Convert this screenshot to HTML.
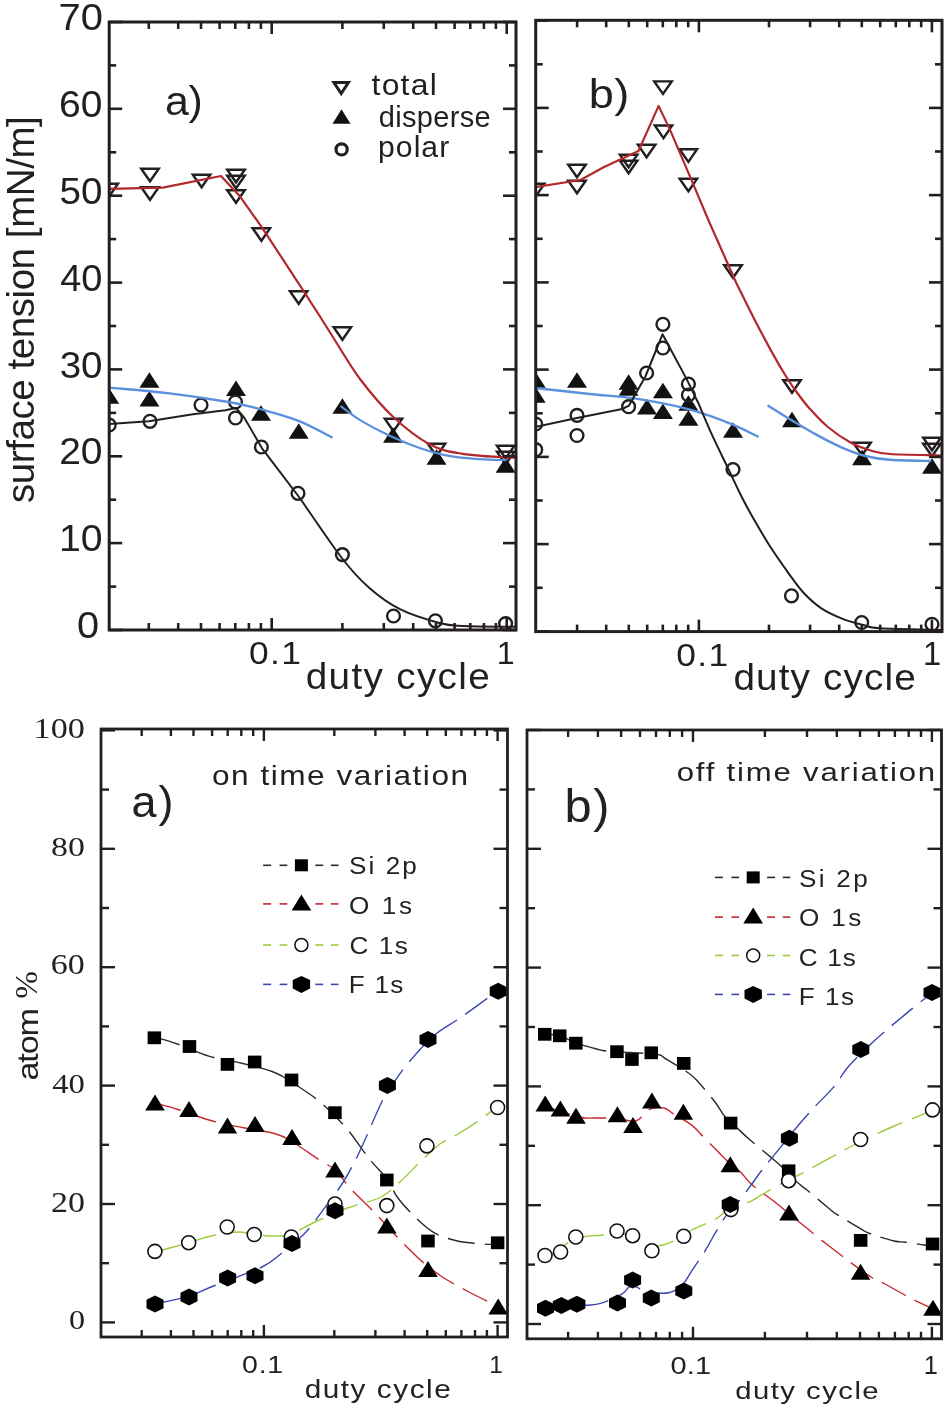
<!DOCTYPE html><html><head><meta charset="utf-8"><title>Surface tension and XPS composition vs duty cycle</title><style>html,body{margin:0;padding:0;background:#fff;}svg{display:block;}</style></head><body>
<svg width="947" height="1409" viewBox="0 0 947 1409">
<rect width="947" height="1409" fill="#fff"/>
<defs>
<clipPath id="cA"><rect x="109.2" y="22" width="406.8" height="607.8"/></clipPath>
<clipPath id="cB"><rect x="535.7" y="20.3" width="406.3" height="611.3"/></clipPath>
<clipPath id="cC"><rect x="101" y="729" width="406.5" height="608"/></clipPath>
<clipPath id="cD"><rect x="527" y="730" width="414.5" height="609"/></clipPath>
</defs>
<g clip-path="url(#cA)">
<path d="M100.5,183.7 L118.0,183.7 L109.2,196.3 Z" fill="none" stroke="#231f20" stroke-width="2.4" stroke-linejoin="miter"/>
<path d="M141.2,168.7 L158.8,168.7 L150.0,181.3 Z" fill="none" stroke="#231f20" stroke-width="2.4" stroke-linejoin="miter"/>
<path d="M141.2,187.2 L158.8,187.2 L150.0,199.8 Z" fill="none" stroke="#231f20" stroke-width="2.4" stroke-linejoin="miter"/>
<path d="M192.8,174.7 L210.3,174.7 L201.6,187.3 Z" fill="none" stroke="#231f20" stroke-width="2.4" stroke-linejoin="miter"/>
<path d="M227.2,169.7 L244.8,169.7 L236.0,182.3 Z" fill="none" stroke="#231f20" stroke-width="2.4" stroke-linejoin="miter"/>
<path d="M227.2,175.7 L244.8,175.7 L236.0,188.3 Z" fill="none" stroke="#231f20" stroke-width="2.4" stroke-linejoin="miter"/>
<path d="M227.2,190.2 L244.8,190.2 L236.0,202.8 Z" fill="none" stroke="#231f20" stroke-width="2.4" stroke-linejoin="miter"/>
<path d="M252.6,228.2 L270.1,228.2 L261.4,240.8 Z" fill="none" stroke="#231f20" stroke-width="2.4" stroke-linejoin="miter"/>
<path d="M289.9,291.2 L307.4,291.2 L298.7,303.8 Z" fill="none" stroke="#231f20" stroke-width="2.4" stroke-linejoin="miter"/>
<path d="M333.6,327.2 L351.1,327.2 L342.4,339.8 Z" fill="none" stroke="#231f20" stroke-width="2.4" stroke-linejoin="miter"/>
<path d="M384.8,418.7 L402.2,418.7 L393.5,431.3 Z" fill="none" stroke="#231f20" stroke-width="2.4" stroke-linejoin="miter"/>
<path d="M427.8,443.7 L445.2,443.7 L436.5,456.3 Z" fill="none" stroke="#231f20" stroke-width="2.4" stroke-linejoin="miter"/>
<path d="M496.9,445.7 L514.4,445.7 L505.6,458.3 Z" fill="none" stroke="#231f20" stroke-width="2.4" stroke-linejoin="miter"/>
<path d="M496.9,451.7 L514.4,451.7 L505.6,464.3 Z" fill="none" stroke="#231f20" stroke-width="2.4" stroke-linejoin="miter"/>
<path d="M99.2,403.8 L119.2,403.8 L109.2,388.2 Z" fill="#111"/>
<path d="M139.4,387.8 L159.4,387.8 L149.4,372.2 Z" fill="#111"/>
<path d="M139.4,406.4 L159.4,406.4 L149.4,390.9 Z" fill="#111"/>
<path d="M226.0,396.1 L246.0,396.1 L236.0,380.6 Z" fill="#111"/>
<path d="M251.0,420.8 L271.0,420.8 L261.0,405.2 Z" fill="#111"/>
<path d="M288.7,438.8 L308.7,438.8 L298.7,423.2 Z" fill="#111"/>
<path d="M332.4,413.8 L352.4,413.8 L342.4,398.2 Z" fill="#111"/>
<path d="M383.0,442.8 L403.0,442.8 L393.0,427.2 Z" fill="#111"/>
<path d="M426.5,464.8 L446.5,464.8 L436.5,449.2 Z" fill="#111"/>
<path d="M495.6,472.8 L515.6,472.8 L505.6,457.2 Z" fill="#111"/>
<circle cx="109.2" cy="425.0" r="6.4" fill="none" stroke="#231f20" stroke-width="2.4"/>
<circle cx="150.0" cy="421.3" r="6.4" fill="none" stroke="#231f20" stroke-width="2.4"/>
<circle cx="201.0" cy="405.0" r="6.4" fill="none" stroke="#231f20" stroke-width="2.4"/>
<circle cx="235.5" cy="402.0" r="6.4" fill="none" stroke="#231f20" stroke-width="2.4"/>
<circle cx="235.5" cy="418.0" r="6.4" fill="none" stroke="#231f20" stroke-width="2.4"/>
<circle cx="261.4" cy="447.0" r="6.4" fill="none" stroke="#231f20" stroke-width="2.4"/>
<circle cx="298.0" cy="493.3" r="6.4" fill="none" stroke="#231f20" stroke-width="2.4"/>
<circle cx="342.4" cy="554.6" r="6.4" fill="none" stroke="#231f20" stroke-width="2.4"/>
<circle cx="393.5" cy="616.0" r="6.4" fill="none" stroke="#231f20" stroke-width="2.4"/>
<circle cx="435.4" cy="620.8" r="6.4" fill="none" stroke="#231f20" stroke-width="2.4"/>
<circle cx="505.6" cy="623.6" r="6.4" fill="none" stroke="#231f20" stroke-width="2.4"/>
<path d="M109.0,188.8 L162.7,187.6 L221.0,176.0 L239.4,195.7 L262.6,228.3 L302.0,288.7 L320.0,316.5 L334.8,340.0 C339.1,346.6 350.7,366.7 360.4,379.5 C370.1,392.3 381.4,405.9 393.0,416.7 C404.6,427.5 418.4,438.3 430.0,444.5 C441.6,450.7 450.2,451.7 462.6,453.8 C475.0,455.9 495.5,456.7 504.4,457.3 C513.3,457.9 514.1,457.6 516.0,457.6" fill="none" stroke="#b3282d" stroke-width="2.2" stroke-linejoin="round"/>
<path d="M109.3,387.6 C119.4,388.6 149.6,390.9 169.7,393.4 C189.8,395.8 214.5,399.6 230.0,402.3 C245.5,405.0 251.0,406.5 262.6,409.7 C274.2,412.9 288.2,416.6 299.8,421.3 C311.4,426.0 327.1,434.9 332.5,437.6" fill="none" stroke="#5a90dc" stroke-width="2.4" stroke-linejoin="round"/>
<path d="M340.6,406.2 C343.9,408.5 351.8,415.1 360.1,420.1 C368.4,425.1 380.2,431.4 390.2,436.1 C400.2,440.8 410.3,444.9 420.3,448.2 C430.3,451.5 440.4,454.4 450.4,456.2 C460.4,458.0 471.1,458.5 480.5,459.2 C489.9,459.9 502.2,460.0 506.6,460.2" fill="none" stroke="#5a90dc" stroke-width="2.2" stroke-linejoin="round"/>
<path d="M109.0,424.0 L148.8,421.3 L193.0,414.3 L225.3,410.3 L236.0,408.0 L244.0,417.3 L262.6,449.2 L299.8,498.0 C306.8,508.0 330.2,543.0 341.8,558.0 C353.4,573.0 360.0,579.8 369.7,588.3 C379.4,596.8 388.3,603.4 399.9,609.2 C411.5,615.0 428.9,620.2 439.4,623.0 C449.8,625.8 449.8,625.4 462.6,626.0 C475.4,626.6 507.1,626.7 516.0,626.8" fill="none" stroke="#231f20" stroke-width="2.0" stroke-linejoin="round"/>
</g>
<rect x="109.2" y="22" width="406.8" height="608.0" fill="none" stroke="#231f20" stroke-width="3"/>
<line x1="148.8" y1="22" x2="148.8" y2="29" stroke="#231f20" stroke-width="2.6"/>
<line x1="148.8" y1="630.0" x2="148.8" y2="623.0" stroke="#231f20" stroke-width="2.6"/>
<line x1="178.2" y1="22" x2="178.2" y2="29" stroke="#231f20" stroke-width="2.6"/>
<line x1="178.2" y1="630.0" x2="178.2" y2="623.0" stroke="#231f20" stroke-width="2.6"/>
<line x1="201.0" y1="22" x2="201.0" y2="29" stroke="#231f20" stroke-width="2.6"/>
<line x1="201.0" y1="630.0" x2="201.0" y2="623.0" stroke="#231f20" stroke-width="2.6"/>
<line x1="219.6" y1="22" x2="219.6" y2="29" stroke="#231f20" stroke-width="2.6"/>
<line x1="219.6" y1="630.0" x2="219.6" y2="623.0" stroke="#231f20" stroke-width="2.6"/>
<line x1="235.3" y1="22" x2="235.3" y2="29" stroke="#231f20" stroke-width="2.6"/>
<line x1="235.3" y1="630.0" x2="235.3" y2="623.0" stroke="#231f20" stroke-width="2.6"/>
<line x1="248.9" y1="22" x2="248.9" y2="29" stroke="#231f20" stroke-width="2.6"/>
<line x1="248.9" y1="630.0" x2="248.9" y2="623.0" stroke="#231f20" stroke-width="2.6"/>
<line x1="260.9" y1="22" x2="260.9" y2="29" stroke="#231f20" stroke-width="2.6"/>
<line x1="260.9" y1="630.0" x2="260.9" y2="623.0" stroke="#231f20" stroke-width="2.6"/>
<line x1="271.7" y1="22" x2="271.7" y2="34" stroke="#231f20" stroke-width="2.6"/>
<line x1="271.7" y1="630.0" x2="271.7" y2="618.0" stroke="#231f20" stroke-width="2.6"/>
<line x1="342.4" y1="22" x2="342.4" y2="29" stroke="#231f20" stroke-width="2.6"/>
<line x1="342.4" y1="630.0" x2="342.4" y2="623.0" stroke="#231f20" stroke-width="2.6"/>
<line x1="383.8" y1="22" x2="383.8" y2="29" stroke="#231f20" stroke-width="2.6"/>
<line x1="383.8" y1="630.0" x2="383.8" y2="623.0" stroke="#231f20" stroke-width="2.6"/>
<line x1="413.2" y1="22" x2="413.2" y2="29" stroke="#231f20" stroke-width="2.6"/>
<line x1="413.2" y1="630.0" x2="413.2" y2="623.0" stroke="#231f20" stroke-width="2.6"/>
<line x1="436.0" y1="22" x2="436.0" y2="29" stroke="#231f20" stroke-width="2.6"/>
<line x1="436.0" y1="630.0" x2="436.0" y2="623.0" stroke="#231f20" stroke-width="2.6"/>
<line x1="454.6" y1="22" x2="454.6" y2="29" stroke="#231f20" stroke-width="2.6"/>
<line x1="454.6" y1="630.0" x2="454.6" y2="623.0" stroke="#231f20" stroke-width="2.6"/>
<line x1="470.3" y1="22" x2="470.3" y2="29" stroke="#231f20" stroke-width="2.6"/>
<line x1="470.3" y1="630.0" x2="470.3" y2="623.0" stroke="#231f20" stroke-width="2.6"/>
<line x1="483.9" y1="22" x2="483.9" y2="29" stroke="#231f20" stroke-width="2.6"/>
<line x1="483.9" y1="630.0" x2="483.9" y2="623.0" stroke="#231f20" stroke-width="2.6"/>
<line x1="495.9" y1="22" x2="495.9" y2="29" stroke="#231f20" stroke-width="2.6"/>
<line x1="495.9" y1="630.0" x2="495.9" y2="623.0" stroke="#231f20" stroke-width="2.6"/>
<line x1="506.7" y1="22" x2="506.7" y2="34" stroke="#231f20" stroke-width="2.6"/>
<line x1="506.7" y1="630.0" x2="506.7" y2="618.0" stroke="#231f20" stroke-width="2.6"/>
<line x1="109.2" y1="630.0" x2="122.2" y2="630.0" stroke="#231f20" stroke-width="2.6"/>
<line x1="516" y1="630.0" x2="503" y2="630.0" stroke="#231f20" stroke-width="2.6"/>
<line x1="109.2" y1="586.6" x2="116.2" y2="586.6" stroke="#231f20" stroke-width="2.6"/>
<line x1="516" y1="586.6" x2="509" y2="586.6" stroke="#231f20" stroke-width="2.6"/>
<line x1="109.2" y1="543.1" x2="122.2" y2="543.1" stroke="#231f20" stroke-width="2.6"/>
<line x1="516" y1="543.1" x2="503" y2="543.1" stroke="#231f20" stroke-width="2.6"/>
<line x1="109.2" y1="499.7" x2="116.2" y2="499.7" stroke="#231f20" stroke-width="2.6"/>
<line x1="516" y1="499.7" x2="509" y2="499.7" stroke="#231f20" stroke-width="2.6"/>
<line x1="109.2" y1="456.3" x2="122.2" y2="456.3" stroke="#231f20" stroke-width="2.6"/>
<line x1="516" y1="456.3" x2="503" y2="456.3" stroke="#231f20" stroke-width="2.6"/>
<line x1="109.2" y1="412.9" x2="116.2" y2="412.9" stroke="#231f20" stroke-width="2.6"/>
<line x1="516" y1="412.9" x2="509" y2="412.9" stroke="#231f20" stroke-width="2.6"/>
<line x1="109.2" y1="369.4" x2="122.2" y2="369.4" stroke="#231f20" stroke-width="2.6"/>
<line x1="516" y1="369.4" x2="503" y2="369.4" stroke="#231f20" stroke-width="2.6"/>
<line x1="109.2" y1="326.0" x2="116.2" y2="326.0" stroke="#231f20" stroke-width="2.6"/>
<line x1="516" y1="326.0" x2="509" y2="326.0" stroke="#231f20" stroke-width="2.6"/>
<line x1="109.2" y1="282.6" x2="122.2" y2="282.6" stroke="#231f20" stroke-width="2.6"/>
<line x1="516" y1="282.6" x2="503" y2="282.6" stroke="#231f20" stroke-width="2.6"/>
<line x1="109.2" y1="239.1" x2="116.2" y2="239.1" stroke="#231f20" stroke-width="2.6"/>
<line x1="516" y1="239.1" x2="509" y2="239.1" stroke="#231f20" stroke-width="2.6"/>
<line x1="109.2" y1="195.7" x2="122.2" y2="195.7" stroke="#231f20" stroke-width="2.6"/>
<line x1="516" y1="195.7" x2="503" y2="195.7" stroke="#231f20" stroke-width="2.6"/>
<line x1="109.2" y1="152.3" x2="116.2" y2="152.3" stroke="#231f20" stroke-width="2.6"/>
<line x1="516" y1="152.3" x2="509" y2="152.3" stroke="#231f20" stroke-width="2.6"/>
<line x1="109.2" y1="108.8" x2="122.2" y2="108.8" stroke="#231f20" stroke-width="2.6"/>
<line x1="516" y1="108.8" x2="503" y2="108.8" stroke="#231f20" stroke-width="2.6"/>
<line x1="109.2" y1="65.4" x2="116.2" y2="65.4" stroke="#231f20" stroke-width="2.6"/>
<line x1="516" y1="65.4" x2="509" y2="65.4" stroke="#231f20" stroke-width="2.6"/>
<line x1="109.2" y1="22.0" x2="122.2" y2="22.0" stroke="#231f20" stroke-width="2.6"/>
<line x1="516" y1="22.0" x2="503" y2="22.0" stroke="#231f20" stroke-width="2.6"/>
<text transform="translate(58.55,30.12) scale(1.0956,1)" font-family='"Liberation Sans", Arial, sans-serif' font-size="36.44" fill="#231f20" >70</text>
<text transform="translate(59.12,116.98) scale(1.0709,1)" font-family='"Liberation Sans", Arial, sans-serif' font-size="36.44" fill="#231f20" >60</text>
<text transform="translate(59.55,203.84) scale(1.0598,1)" font-family='"Liberation Sans", Arial, sans-serif' font-size="36.44" fill="#231f20" >50</text>
<text transform="translate(60.23,290.70) scale(1.0425,1)" font-family='"Liberation Sans", Arial, sans-serif' font-size="36.44" fill="#231f20" >40</text>
<text transform="translate(59.63,377.56) scale(1.0578,1)" font-family='"Liberation Sans", Arial, sans-serif' font-size="36.44" fill="#231f20" >30</text>
<text transform="translate(59.14,464.42) scale(1.0704,1)" font-family='"Liberation Sans", Arial, sans-serif' font-size="36.44" fill="#231f20" >20</text>
<text transform="translate(59.01,551.28) scale(1.0761,1)" font-family='"Liberation Sans", Arial, sans-serif' font-size="36.44" fill="#231f20" >10</text>
<text transform="translate(76.95,638.14) scale(1.0907,1)" font-family='"Liberation Sans", Arial, sans-serif' font-size="36.44" fill="#231f20" >0</text>
<text transform="translate(248.92,664.09) scale(1.1300,1)" font-family='"Liberation Sans", Arial, sans-serif' font-size="31.36" fill="#231f20" letter-spacing="1.177" >0.1</text>
<text transform="translate(496.73,663.80) scale(1.0000,1)" font-family='"Liberation Sans", Arial, sans-serif' font-size="32.12" fill="#231f20" >1</text>
<text transform="translate(305.78,689.00) scale(1.0400,1)" font-family='"Liberation Sans", Arial, sans-serif' font-size="37.20" fill="#231f20" letter-spacing="1.274" >duty cycle</text>
<text transform="translate(33.80,503.07) rotate(-90) scale(1.0000,1)" font-family='"Liberation Sans", Arial, sans-serif' font-size="38.50" fill="#231f20" letter-spacing="-0.429" >surface tension [mN/m]</text>
<text transform="translate(165.08,115.40) scale(1.0600,1)" font-family='"Liberation Sans", Arial, sans-serif' font-size="40.50" fill="#231f20" letter-spacing="-0.364" >a)</text>
<path d="M333.9,82.5 L348.4,82.5 L341.2,93.5 Z" fill="none" stroke="#231f20" stroke-width="3.0" stroke-linejoin="miter"/>
<path d="M332.5,123.8 L350.5,123.8 L341.5,109.2 Z" fill="#111"/>
<circle cx="341.6" cy="149.4" r="5.6" fill="none" stroke="#231f20" stroke-width="3.2"/>
<text transform="translate(371.52,95.30) scale(1.1000,1)" font-family='"Liberation Sans", Arial, sans-serif' font-size="29.00" fill="#231f20" letter-spacing="1.141" >total</text>
<text transform="translate(378.78,126.70) scale(1.0000,1)" font-family='"Liberation Sans", Arial, sans-serif' font-size="29.00" fill="#231f20" letter-spacing="0.313" >disperse</text>
<text transform="translate(378.06,156.90) scale(1.0400,1)" font-family='"Liberation Sans", Arial, sans-serif' font-size="29.00" fill="#231f20" letter-spacing="0.981" >polar</text>
<g clip-path="url(#cB)">
<path d="M527.0,183.7 L544.5,183.7 L535.7,196.3 Z" fill="none" stroke="#231f20" stroke-width="2.4" stroke-linejoin="miter"/>
<path d="M568.2,164.7 L585.8,164.7 L577.0,177.3 Z" fill="none" stroke="#231f20" stroke-width="2.4" stroke-linejoin="miter"/>
<path d="M568.2,180.7 L585.8,180.7 L577.0,193.3 Z" fill="none" stroke="#231f20" stroke-width="2.4" stroke-linejoin="miter"/>
<path d="M619.9,154.7 L637.4,154.7 L628.6,167.3 Z" fill="none" stroke="#231f20" stroke-width="2.4" stroke-linejoin="miter"/>
<path d="M619.9,160.7 L637.4,160.7 L628.6,173.3 Z" fill="none" stroke="#231f20" stroke-width="2.4" stroke-linejoin="miter"/>
<path d="M637.9,144.7 L655.4,144.7 L646.6,157.3 Z" fill="none" stroke="#231f20" stroke-width="2.4" stroke-linejoin="miter"/>
<path d="M654.2,81.4 L671.8,81.4 L663.0,94.0 Z" fill="none" stroke="#231f20" stroke-width="2.4" stroke-linejoin="miter"/>
<path d="M654.8,125.5 L672.2,125.5 L663.5,138.1 Z" fill="none" stroke="#231f20" stroke-width="2.4" stroke-linejoin="miter"/>
<path d="M679.6,149.3 L697.1,149.3 L688.4,161.9 Z" fill="none" stroke="#231f20" stroke-width="2.4" stroke-linejoin="miter"/>
<path d="M679.6,178.7 L697.1,178.7 L688.4,191.3 Z" fill="none" stroke="#231f20" stroke-width="2.4" stroke-linejoin="miter"/>
<path d="M724.2,265.2 L741.8,265.2 L733.0,277.8 Z" fill="none" stroke="#231f20" stroke-width="2.4" stroke-linejoin="miter"/>
<path d="M783.2,380.2 L800.8,380.2 L792.0,392.8 Z" fill="none" stroke="#231f20" stroke-width="2.4" stroke-linejoin="miter"/>
<path d="M853.2,442.7 L870.8,442.7 L862.0,455.3 Z" fill="none" stroke="#231f20" stroke-width="2.4" stroke-linejoin="miter"/>
<path d="M923.2,437.7 L940.8,437.7 L932.0,450.3 Z" fill="none" stroke="#231f20" stroke-width="2.4" stroke-linejoin="miter"/>
<path d="M923.2,443.7 L940.8,443.7 L932.0,456.3 Z" fill="none" stroke="#231f20" stroke-width="2.4" stroke-linejoin="miter"/>
<path d="M525.7,387.8 L545.7,387.8 L535.7,372.2 Z" fill="#111"/>
<path d="M525.7,402.8 L545.7,402.8 L535.7,387.2 Z" fill="#111"/>
<path d="M567.0,387.8 L587.0,387.8 L577.0,372.2 Z" fill="#111"/>
<path d="M618.6,389.8 L638.6,389.8 L628.6,374.2 Z" fill="#111"/>
<path d="M618.6,395.8 L638.6,395.8 L628.6,380.2 Z" fill="#111"/>
<path d="M637.0,414.4 L657.0,414.4 L647.0,398.9 Z" fill="#111"/>
<path d="M652.9,398.2 L672.9,398.2 L662.9,382.8 Z" fill="#111"/>
<path d="M652.9,419.1 L672.9,419.1 L662.9,403.6 Z" fill="#111"/>
<path d="M678.4,410.8 L698.4,410.8 L688.4,395.2 Z" fill="#111"/>
<path d="M678.4,425.8 L698.4,425.8 L688.4,410.2 Z" fill="#111"/>
<path d="M723.0,437.8 L743.0,437.8 L733.0,422.2 Z" fill="#111"/>
<path d="M782.0,427.2 L802.0,427.2 L792.0,411.8 Z" fill="#111"/>
<path d="M852.0,465.2 L872.0,465.2 L862.0,449.8 Z" fill="#111"/>
<path d="M922.0,473.8 L942.0,473.8 L932.0,458.2 Z" fill="#111"/>
<circle cx="535.7" cy="424.0" r="6.4" fill="none" stroke="#231f20" stroke-width="2.4"/>
<circle cx="535.7" cy="449.7" r="6.4" fill="none" stroke="#231f20" stroke-width="2.4"/>
<circle cx="577.0" cy="415.4" r="6.4" fill="none" stroke="#231f20" stroke-width="2.4"/>
<circle cx="577.0" cy="435.5" r="6.4" fill="none" stroke="#231f20" stroke-width="2.4"/>
<circle cx="628.6" cy="406.7" r="6.4" fill="none" stroke="#231f20" stroke-width="2.4"/>
<circle cx="646.6" cy="373.0" r="6.4" fill="none" stroke="#231f20" stroke-width="2.4"/>
<circle cx="662.9" cy="324.3" r="6.4" fill="none" stroke="#231f20" stroke-width="2.4"/>
<circle cx="662.9" cy="348.0" r="6.4" fill="none" stroke="#231f20" stroke-width="2.4"/>
<circle cx="688.4" cy="384.0" r="6.4" fill="none" stroke="#231f20" stroke-width="2.4"/>
<circle cx="688.4" cy="395.0" r="6.4" fill="none" stroke="#231f20" stroke-width="2.4"/>
<circle cx="733.0" cy="469.5" r="6.4" fill="none" stroke="#231f20" stroke-width="2.4"/>
<circle cx="791.5" cy="595.8" r="6.4" fill="none" stroke="#231f20" stroke-width="2.4"/>
<circle cx="861.7" cy="622.5" r="6.4" fill="none" stroke="#231f20" stroke-width="2.4"/>
<circle cx="932.0" cy="624.3" r="6.4" fill="none" stroke="#231f20" stroke-width="2.4"/>
<path d="M535.0,187.2 L580.4,180.0 L603.6,167.2 L638.5,151.0 L658.6,105.9 L670.5,130.9 L690.9,178.6 L709.1,221.8 L727.3,262.7 L736.4,283.2 C739.4,289.2 748.5,307.8 754.5,319.5 C760.5,331.2 767.4,344.0 772.7,353.6 C778.0,363.2 782.2,370.3 786.4,377.0 C790.6,383.7 794.1,388.7 798.0,394.0 C801.9,399.3 805.1,403.6 810.0,409.0 C814.9,414.4 820.5,420.9 827.3,426.5 C834.0,432.1 843.1,438.5 850.5,442.5 C857.9,446.5 865.0,448.8 871.6,450.7 C878.2,452.6 878.3,453.2 890.0,454.0 C901.7,454.8 933.3,455.2 942.0,455.5" fill="none" stroke="#b3282d" stroke-width="2.2" stroke-linejoin="round"/>
<path d="M535.0,388.0 C544.1,389.0 572.9,392.2 589.7,394.0 C606.5,395.8 619.3,396.0 636.0,398.6 C652.7,401.2 674.0,405.3 690.0,409.6 C706.0,413.9 720.8,419.7 732.2,424.3 C743.6,428.9 754.2,434.9 758.6,437.0" fill="none" stroke="#5a90dc" stroke-width="2.4" stroke-linejoin="round"/>
<path d="M767.6,405.3 C771.6,407.8 783.2,415.2 791.4,420.1 C799.6,425.0 808.3,430.3 816.7,434.9 C825.1,439.5 833.9,444.1 842.0,447.6 C850.1,451.1 857.3,454.0 865.3,456.0 C873.3,458.0 879.0,459.0 890.0,459.8 C901.0,460.6 924.5,460.8 931.4,461.0" fill="none" stroke="#5a90dc" stroke-width="2.4" stroke-linejoin="round"/>
<path d="M535.0,427.0 L575.7,418.3 L622.2,409.0 L629.0,405.6 L645.4,376.5 L662.5,334.3 L686.4,378.6 L698.4,403.2 C700.5,408.1 706.2,422.0 711.1,432.8 C716.0,443.6 723.0,457.8 728.0,468.2 C733.0,478.6 736.8,487.1 741.0,495.5 C745.2,503.9 748.5,509.9 753.4,518.5 C758.3,527.0 764.3,537.5 770.3,546.8 C776.3,556.1 783.7,566.5 789.3,574.3 C794.9,582.0 798.7,587.7 804.0,593.3 C809.3,598.9 814.7,603.9 821.0,608.1 C827.3,612.3 835.0,615.8 842.0,618.6 C849.0,621.4 856.9,623.4 863.2,625.0 C869.5,626.6 866.9,627.4 880.0,628.2 C893.1,629.0 931.7,629.7 942.0,630.0" fill="none" stroke="#231f20" stroke-width="2.0" stroke-linejoin="round"/>
</g>
<rect x="535.7" y="20.3" width="406.29999999999995" height="611.3000000000001" fill="none" stroke="#231f20" stroke-width="3"/>
<line x1="577.1" y1="20.3" x2="577.1" y2="27.3" stroke="#231f20" stroke-width="2.6"/>
<line x1="577.1" y1="631.6" x2="577.1" y2="624.6" stroke="#231f20" stroke-width="2.6"/>
<line x1="606.2" y1="20.3" x2="606.2" y2="27.3" stroke="#231f20" stroke-width="2.6"/>
<line x1="606.2" y1="631.6" x2="606.2" y2="624.6" stroke="#231f20" stroke-width="2.6"/>
<line x1="628.8" y1="20.3" x2="628.8" y2="27.3" stroke="#231f20" stroke-width="2.6"/>
<line x1="628.8" y1="631.6" x2="628.8" y2="624.6" stroke="#231f20" stroke-width="2.6"/>
<line x1="647.2" y1="20.3" x2="647.2" y2="27.3" stroke="#231f20" stroke-width="2.6"/>
<line x1="647.2" y1="631.6" x2="647.2" y2="624.6" stroke="#231f20" stroke-width="2.6"/>
<line x1="662.8" y1="20.3" x2="662.8" y2="27.3" stroke="#231f20" stroke-width="2.6"/>
<line x1="662.8" y1="631.6" x2="662.8" y2="624.6" stroke="#231f20" stroke-width="2.6"/>
<line x1="676.3" y1="20.3" x2="676.3" y2="27.3" stroke="#231f20" stroke-width="2.6"/>
<line x1="676.3" y1="631.6" x2="676.3" y2="624.6" stroke="#231f20" stroke-width="2.6"/>
<line x1="688.2" y1="20.3" x2="688.2" y2="27.3" stroke="#231f20" stroke-width="2.6"/>
<line x1="688.2" y1="631.6" x2="688.2" y2="624.6" stroke="#231f20" stroke-width="2.6"/>
<line x1="698.9" y1="20.3" x2="698.9" y2="32.3" stroke="#231f20" stroke-width="2.6"/>
<line x1="698.9" y1="631.6" x2="698.9" y2="619.6" stroke="#231f20" stroke-width="2.6"/>
<line x1="769.0" y1="20.3" x2="769.0" y2="27.3" stroke="#231f20" stroke-width="2.6"/>
<line x1="769.0" y1="631.6" x2="769.0" y2="624.6" stroke="#231f20" stroke-width="2.6"/>
<line x1="810.1" y1="20.3" x2="810.1" y2="27.3" stroke="#231f20" stroke-width="2.6"/>
<line x1="810.1" y1="631.6" x2="810.1" y2="624.6" stroke="#231f20" stroke-width="2.6"/>
<line x1="839.2" y1="20.3" x2="839.2" y2="27.3" stroke="#231f20" stroke-width="2.6"/>
<line x1="839.2" y1="631.6" x2="839.2" y2="624.6" stroke="#231f20" stroke-width="2.6"/>
<line x1="861.8" y1="20.3" x2="861.8" y2="27.3" stroke="#231f20" stroke-width="2.6"/>
<line x1="861.8" y1="631.6" x2="861.8" y2="624.6" stroke="#231f20" stroke-width="2.6"/>
<line x1="880.2" y1="20.3" x2="880.2" y2="27.3" stroke="#231f20" stroke-width="2.6"/>
<line x1="880.2" y1="631.6" x2="880.2" y2="624.6" stroke="#231f20" stroke-width="2.6"/>
<line x1="895.8" y1="20.3" x2="895.8" y2="27.3" stroke="#231f20" stroke-width="2.6"/>
<line x1="895.8" y1="631.6" x2="895.8" y2="624.6" stroke="#231f20" stroke-width="2.6"/>
<line x1="909.3" y1="20.3" x2="909.3" y2="27.3" stroke="#231f20" stroke-width="2.6"/>
<line x1="909.3" y1="631.6" x2="909.3" y2="624.6" stroke="#231f20" stroke-width="2.6"/>
<line x1="921.2" y1="20.3" x2="921.2" y2="27.3" stroke="#231f20" stroke-width="2.6"/>
<line x1="921.2" y1="631.6" x2="921.2" y2="624.6" stroke="#231f20" stroke-width="2.6"/>
<line x1="931.9" y1="20.3" x2="931.9" y2="32.3" stroke="#231f20" stroke-width="2.6"/>
<line x1="931.9" y1="631.6" x2="931.9" y2="619.6" stroke="#231f20" stroke-width="2.6"/>
<line x1="535.7" y1="631.4" x2="548.7" y2="631.4" stroke="#231f20" stroke-width="2.6"/>
<line x1="942" y1="631.4" x2="929" y2="631.4" stroke="#231f20" stroke-width="2.6"/>
<line x1="535.7" y1="587.8" x2="542.7" y2="587.8" stroke="#231f20" stroke-width="2.6"/>
<line x1="942" y1="587.8" x2="935" y2="587.8" stroke="#231f20" stroke-width="2.6"/>
<line x1="535.7" y1="544.1" x2="548.7" y2="544.1" stroke="#231f20" stroke-width="2.6"/>
<line x1="942" y1="544.1" x2="929" y2="544.1" stroke="#231f20" stroke-width="2.6"/>
<line x1="535.7" y1="500.5" x2="542.7" y2="500.5" stroke="#231f20" stroke-width="2.6"/>
<line x1="942" y1="500.5" x2="935" y2="500.5" stroke="#231f20" stroke-width="2.6"/>
<line x1="535.7" y1="456.9" x2="548.7" y2="456.9" stroke="#231f20" stroke-width="2.6"/>
<line x1="942" y1="456.9" x2="929" y2="456.9" stroke="#231f20" stroke-width="2.6"/>
<line x1="535.7" y1="413.3" x2="542.7" y2="413.3" stroke="#231f20" stroke-width="2.6"/>
<line x1="942" y1="413.3" x2="935" y2="413.3" stroke="#231f20" stroke-width="2.6"/>
<line x1="535.7" y1="369.6" x2="548.7" y2="369.6" stroke="#231f20" stroke-width="2.6"/>
<line x1="942" y1="369.6" x2="929" y2="369.6" stroke="#231f20" stroke-width="2.6"/>
<line x1="535.7" y1="326.0" x2="542.7" y2="326.0" stroke="#231f20" stroke-width="2.6"/>
<line x1="942" y1="326.0" x2="935" y2="326.0" stroke="#231f20" stroke-width="2.6"/>
<line x1="535.7" y1="282.4" x2="548.7" y2="282.4" stroke="#231f20" stroke-width="2.6"/>
<line x1="942" y1="282.4" x2="929" y2="282.4" stroke="#231f20" stroke-width="2.6"/>
<line x1="535.7" y1="238.8" x2="542.7" y2="238.8" stroke="#231f20" stroke-width="2.6"/>
<line x1="942" y1="238.8" x2="935" y2="238.8" stroke="#231f20" stroke-width="2.6"/>
<line x1="535.7" y1="195.1" x2="548.7" y2="195.1" stroke="#231f20" stroke-width="2.6"/>
<line x1="942" y1="195.1" x2="929" y2="195.1" stroke="#231f20" stroke-width="2.6"/>
<line x1="535.7" y1="151.5" x2="542.7" y2="151.5" stroke="#231f20" stroke-width="2.6"/>
<line x1="942" y1="151.5" x2="935" y2="151.5" stroke="#231f20" stroke-width="2.6"/>
<line x1="535.7" y1="107.9" x2="548.7" y2="107.9" stroke="#231f20" stroke-width="2.6"/>
<line x1="942" y1="107.9" x2="929" y2="107.9" stroke="#231f20" stroke-width="2.6"/>
<line x1="535.7" y1="64.3" x2="542.7" y2="64.3" stroke="#231f20" stroke-width="2.6"/>
<line x1="942" y1="64.3" x2="935" y2="64.3" stroke="#231f20" stroke-width="2.6"/>
<line x1="535.7" y1="20.6" x2="548.7" y2="20.6" stroke="#231f20" stroke-width="2.6"/>
<line x1="942" y1="20.6" x2="929" y2="20.6" stroke="#231f20" stroke-width="2.6"/>
<text transform="translate(676.32,665.89) scale(1.1300,1)" font-family='"Liberation Sans", Arial, sans-serif' font-size="31.36" fill="#231f20" letter-spacing="1.177" >0.1</text>
<text transform="translate(923.06,665.40) scale(1.0000,1)" font-family='"Liberation Sans", Arial, sans-serif' font-size="32.70" fill="#231f20" >1</text>
<text transform="translate(733.38,689.60) scale(1.0400,1)" font-family='"Liberation Sans", Arial, sans-serif' font-size="37.20" fill="#231f20" letter-spacing="1.103" >duty cycle</text>
<text transform="translate(588.69,107.80) scale(1.1000,1)" font-family='"Liberation Sans", Arial, sans-serif' font-size="41.00" fill="#231f20" letter-spacing="0.457" >b)</text>
<g clip-path="url(#cC)">
<path d="M154.0,1037.0 C157.9,1038.2 168.4,1040.8 177.5,1044.0 C186.6,1047.2 198.1,1053.0 208.8,1056.2 C219.5,1059.4 230.8,1060.5 241.8,1063.2 C252.8,1065.9 265.3,1068.7 274.6,1072.5 C283.9,1076.3 290.3,1081.3 297.6,1086.0 C304.9,1090.7 311.7,1095.2 318.2,1100.5 C324.7,1105.8 331.6,1112.8 336.8,1118.0 C342.0,1123.2 345.0,1126.2 349.6,1132.0 C354.2,1137.8 360.6,1147.4 364.7,1152.8 C368.8,1158.2 370.1,1159.9 374.0,1164.4 C377.9,1168.9 384.1,1174.6 388.0,1180.0 C391.9,1185.4 392.6,1190.7 397.2,1197.0 C401.8,1203.3 409.6,1211.8 415.8,1217.8 C422.0,1223.8 427.4,1229.0 434.4,1232.9 C441.4,1236.8 449.5,1239.2 457.6,1241.0 C465.7,1242.8 476.5,1243.4 483.2,1244.0 C489.9,1244.6 495.5,1244.4 498.0,1244.5" fill="none" stroke="#2a2a2a" stroke-width="1.4" stroke-dasharray="27 10"/>
<path d="M155.0,1103.0 C158.8,1104.1 169.0,1106.7 178.0,1109.5 C187.0,1112.3 198.3,1117.0 209.0,1120.0 C219.7,1123.0 230.8,1125.2 242.0,1127.5 C253.2,1129.8 267.2,1131.3 276.0,1134.0 C284.8,1136.7 288.0,1139.3 295.0,1143.5 C302.0,1147.7 311.3,1154.6 318.0,1159.0 C324.7,1163.4 329.5,1165.0 335.0,1170.0 C340.5,1175.0 344.8,1182.3 351.0,1189.0 C357.2,1195.7 363.5,1201.2 372.0,1210.0 C380.5,1218.8 393.2,1233.0 402.0,1242.0 C410.8,1251.0 418.0,1258.0 425.0,1264.0 C432.0,1270.0 437.0,1273.5 444.0,1278.0 C451.0,1282.5 458.5,1286.5 467.0,1291.0 C475.5,1295.5 490.3,1302.7 495.0,1305.0" fill="none" stroke="#c8282d" stroke-width="1.4" stroke-dasharray="27 10"/>
<path d="M155.0,1252.0 C160.5,1250.5 178.7,1245.7 188.0,1243.0 C197.3,1240.3 202.5,1237.8 211.0,1236.0 C219.5,1234.2 230.5,1232.1 239.0,1232.0 C247.5,1231.9 253.8,1235.0 262.0,1235.5 C270.2,1236.0 279.3,1237.2 288.0,1235.0 C296.7,1232.8 304.3,1226.9 314.0,1222.5 C323.7,1218.1 334.8,1212.8 346.0,1208.5 C357.2,1204.2 371.7,1201.8 381.0,1197.0 C390.3,1192.2 395.5,1185.8 402.0,1180.0 C408.5,1174.2 413.7,1168.0 420.0,1162.0 C426.3,1156.0 433.7,1148.7 440.0,1144.0 C446.3,1139.3 452.0,1137.6 458.0,1134.0 C464.0,1130.4 469.8,1126.8 476.0,1122.6 C482.2,1118.4 491.8,1111.0 495.0,1108.7" fill="none" stroke="#9acb3c" stroke-width="1.4" stroke-dasharray="27 10"/>
<path d="M155.0,1304.0 C160.7,1302.7 179.2,1299.0 189.0,1296.0 C198.8,1293.0 201.3,1290.8 213.5,1286.0 C225.7,1281.2 250.4,1272.7 262.0,1267.0 C273.6,1261.3 275.7,1257.8 283.0,1252.0 C290.3,1246.2 299.0,1239.4 306.0,1232.0 C313.0,1224.6 319.0,1215.4 325.0,1207.4 C331.0,1199.4 337.0,1191.7 342.0,1184.0 C347.0,1176.3 351.3,1168.0 355.0,1161.0 C358.7,1154.0 359.3,1152.3 364.0,1142.0 C368.7,1131.7 377.8,1109.6 383.0,1099.4 C388.2,1089.2 390.7,1087.0 395.0,1080.8 C399.3,1074.6 402.5,1069.5 409.0,1062.0 C415.5,1054.5 425.5,1042.8 434.0,1035.5 C442.5,1028.2 450.3,1024.8 460.0,1018.0 C469.7,1011.2 485.7,999.5 492.0,995.0 C498.3,990.5 497.0,991.7 498.0,991.0" fill="none" stroke="#3a48b0" stroke-width="1.4" stroke-dasharray="27 10"/>
<rect x="147.6" y="1031.4" width="13.5" height="12.8" fill="#000"/>
<rect x="182.7" y="1040.1" width="13.5" height="12.8" fill="#000"/>
<rect x="220.7" y="1058.0" width="13.5" height="12.8" fill="#000"/>
<rect x="247.9" y="1055.6" width="13.5" height="12.8" fill="#000"/>
<rect x="284.8" y="1073.6" width="13.5" height="12.8" fill="#000"/>
<rect x="328.2" y="1106.3" width="13.5" height="12.8" fill="#000"/>
<rect x="380.1" y="1173.6" width="13.5" height="12.8" fill="#000"/>
<rect x="421.2" y="1234.6" width="13.5" height="12.8" fill="#000"/>
<rect x="490.9" y="1236.4" width="13.5" height="12.8" fill="#000"/>
<path d="M145.2,1110.5 L164.8,1110.5 L155.0,1094.5 Z" fill="#000"/>
<path d="M179.2,1117.0 L198.8,1117.0 L189.0,1101.0 Z" fill="#000"/>
<path d="M217.8,1133.5 L237.2,1133.5 L227.5,1117.5 Z" fill="#000"/>
<path d="M245.2,1132.0 L264.8,1132.0 L255.0,1116.0 Z" fill="#000"/>
<path d="M282.2,1145.0 L301.8,1145.0 L292.0,1129.0 Z" fill="#000"/>
<path d="M325.2,1177.6 L344.8,1177.6 L335.0,1161.6 Z" fill="#000"/>
<path d="M377.1,1233.4 L396.6,1233.4 L386.8,1217.4 Z" fill="#000"/>
<path d="M418.2,1277.0 L437.8,1277.0 L428.0,1261.0 Z" fill="#000"/>
<path d="M488.4,1314.6 L507.9,1314.6 L498.2,1298.6 Z" fill="#000"/>
<circle cx="154.9" cy="1251.4" r="7.0" fill="#fff" stroke="#111" stroke-width="1.6"/>
<circle cx="188.7" cy="1242.7" r="7.0" fill="#fff" stroke="#111" stroke-width="1.6"/>
<circle cx="227.2" cy="1227.0" r="7.0" fill="#fff" stroke="#111" stroke-width="1.6"/>
<circle cx="254.2" cy="1234.5" r="7.0" fill="#fff" stroke="#111" stroke-width="1.6"/>
<circle cx="291.3" cy="1237.0" r="7.0" fill="#fff" stroke="#111" stroke-width="1.6"/>
<circle cx="335.0" cy="1204.0" r="7.0" fill="#fff" stroke="#111" stroke-width="1.6"/>
<circle cx="386.8" cy="1205.6" r="7.0" fill="#fff" stroke="#111" stroke-width="1.6"/>
<circle cx="426.9" cy="1145.9" r="7.0" fill="#fff" stroke="#111" stroke-width="1.6"/>
<circle cx="497.6" cy="1107.5" r="7.0" fill="#fff" stroke="#111" stroke-width="1.6"/>
<path d="M155.0,1295.5 L163.5,1299.8 L163.5,1308.2 L155.0,1312.5 L146.5,1308.2 L146.5,1299.8 Z" fill="#000"/>
<path d="M189.0,1288.5 L197.5,1292.8 L197.5,1301.2 L189.0,1305.5 L180.5,1301.2 L180.5,1292.8 Z" fill="#000"/>
<path d="M227.6,1269.5 L236.1,1273.8 L236.1,1282.2 L227.6,1286.5 L219.1,1282.2 L219.1,1273.8 Z" fill="#000"/>
<path d="M255.0,1267.2 L263.5,1271.5 L263.5,1280.0 L255.0,1284.2 L246.5,1280.0 L246.5,1271.5 Z" fill="#000"/>
<path d="M292.0,1235.0 L300.5,1239.2 L300.5,1247.8 L292.0,1252.0 L283.5,1247.8 L283.5,1239.2 Z" fill="#000"/>
<path d="M335.0,1202.3 L343.5,1206.5 L343.5,1215.0 L335.0,1219.3 L326.5,1215.0 L326.5,1206.5 Z" fill="#000"/>
<path d="M387.4,1076.9 L395.9,1081.2 L395.9,1089.7 L387.4,1093.9 L378.9,1089.7 L378.9,1081.2 Z" fill="#000"/>
<path d="M428.0,1031.0 L436.5,1035.2 L436.5,1043.8 L428.0,1048.0 L419.5,1043.8 L419.5,1035.2 Z" fill="#000"/>
<path d="M498.2,982.8 L506.7,987.0 L506.7,995.5 L498.2,999.8 L489.7,995.5 L489.7,987.0 Z" fill="#000"/>
</g>
<rect x="101" y="729" width="406.5" height="608" fill="none" stroke="#231f20" stroke-width="2.8"/>
<line x1="141.7" y1="729" x2="141.7" y2="736" stroke="#231f20" stroke-width="2.4"/>
<line x1="141.7" y1="1337" x2="141.7" y2="1330" stroke="#231f20" stroke-width="2.4"/>
<line x1="170.9" y1="729" x2="170.9" y2="736" stroke="#231f20" stroke-width="2.4"/>
<line x1="170.9" y1="1337" x2="170.9" y2="1330" stroke="#231f20" stroke-width="2.4"/>
<line x1="193.5" y1="729" x2="193.5" y2="736" stroke="#231f20" stroke-width="2.4"/>
<line x1="193.5" y1="1337" x2="193.5" y2="1330" stroke="#231f20" stroke-width="2.4"/>
<line x1="212.1" y1="729" x2="212.1" y2="736" stroke="#231f20" stroke-width="2.4"/>
<line x1="212.1" y1="1337" x2="212.1" y2="1330" stroke="#231f20" stroke-width="2.4"/>
<line x1="227.7" y1="729" x2="227.7" y2="736" stroke="#231f20" stroke-width="2.4"/>
<line x1="227.7" y1="1337" x2="227.7" y2="1330" stroke="#231f20" stroke-width="2.4"/>
<line x1="241.3" y1="729" x2="241.3" y2="736" stroke="#231f20" stroke-width="2.4"/>
<line x1="241.3" y1="1337" x2="241.3" y2="1330" stroke="#231f20" stroke-width="2.4"/>
<line x1="253.2" y1="729" x2="253.2" y2="736" stroke="#231f20" stroke-width="2.4"/>
<line x1="253.2" y1="1337" x2="253.2" y2="1330" stroke="#231f20" stroke-width="2.4"/>
<line x1="263.9" y1="729" x2="263.9" y2="741" stroke="#231f20" stroke-width="2.4"/>
<line x1="263.9" y1="1337" x2="263.9" y2="1325" stroke="#231f20" stroke-width="2.4"/>
<line x1="334.3" y1="729" x2="334.3" y2="736" stroke="#231f20" stroke-width="2.4"/>
<line x1="334.3" y1="1337" x2="334.3" y2="1330" stroke="#231f20" stroke-width="2.4"/>
<line x1="375.4" y1="729" x2="375.4" y2="736" stroke="#231f20" stroke-width="2.4"/>
<line x1="375.4" y1="1337" x2="375.4" y2="1330" stroke="#231f20" stroke-width="2.4"/>
<line x1="404.6" y1="729" x2="404.6" y2="736" stroke="#231f20" stroke-width="2.4"/>
<line x1="404.6" y1="1337" x2="404.6" y2="1330" stroke="#231f20" stroke-width="2.4"/>
<line x1="427.2" y1="729" x2="427.2" y2="736" stroke="#231f20" stroke-width="2.4"/>
<line x1="427.2" y1="1337" x2="427.2" y2="1330" stroke="#231f20" stroke-width="2.4"/>
<line x1="445.8" y1="729" x2="445.8" y2="736" stroke="#231f20" stroke-width="2.4"/>
<line x1="445.8" y1="1337" x2="445.8" y2="1330" stroke="#231f20" stroke-width="2.4"/>
<line x1="461.4" y1="729" x2="461.4" y2="736" stroke="#231f20" stroke-width="2.4"/>
<line x1="461.4" y1="1337" x2="461.4" y2="1330" stroke="#231f20" stroke-width="2.4"/>
<line x1="475.0" y1="729" x2="475.0" y2="736" stroke="#231f20" stroke-width="2.4"/>
<line x1="475.0" y1="1337" x2="475.0" y2="1330" stroke="#231f20" stroke-width="2.4"/>
<line x1="486.9" y1="729" x2="486.9" y2="736" stroke="#231f20" stroke-width="2.4"/>
<line x1="486.9" y1="1337" x2="486.9" y2="1330" stroke="#231f20" stroke-width="2.4"/>
<line x1="497.6" y1="729" x2="497.6" y2="741" stroke="#231f20" stroke-width="2.4"/>
<line x1="497.6" y1="1337" x2="497.6" y2="1325" stroke="#231f20" stroke-width="2.4"/>
<line x1="101" y1="1322.4" x2="115" y2="1322.4" stroke="#231f20" stroke-width="2.4"/>
<line x1="507.5" y1="1322.4" x2="493.5" y2="1322.4" stroke="#231f20" stroke-width="2.4"/>
<line x1="101" y1="1263.2" x2="109" y2="1263.2" stroke="#231f20" stroke-width="2.4"/>
<line x1="507.5" y1="1263.2" x2="499.5" y2="1263.2" stroke="#231f20" stroke-width="2.4"/>
<line x1="101" y1="1204.0" x2="115" y2="1204.0" stroke="#231f20" stroke-width="2.4"/>
<line x1="507.5" y1="1204.0" x2="493.5" y2="1204.0" stroke="#231f20" stroke-width="2.4"/>
<line x1="101" y1="1144.8" x2="109" y2="1144.8" stroke="#231f20" stroke-width="2.4"/>
<line x1="507.5" y1="1144.8" x2="499.5" y2="1144.8" stroke="#231f20" stroke-width="2.4"/>
<line x1="101" y1="1085.6" x2="115" y2="1085.6" stroke="#231f20" stroke-width="2.4"/>
<line x1="507.5" y1="1085.6" x2="493.5" y2="1085.6" stroke="#231f20" stroke-width="2.4"/>
<line x1="101" y1="1026.4" x2="109" y2="1026.4" stroke="#231f20" stroke-width="2.4"/>
<line x1="507.5" y1="1026.4" x2="499.5" y2="1026.4" stroke="#231f20" stroke-width="2.4"/>
<line x1="101" y1="967.2" x2="115" y2="967.2" stroke="#231f20" stroke-width="2.4"/>
<line x1="507.5" y1="967.2" x2="493.5" y2="967.2" stroke="#231f20" stroke-width="2.4"/>
<line x1="101" y1="908.0" x2="109" y2="908.0" stroke="#231f20" stroke-width="2.4"/>
<line x1="507.5" y1="908.0" x2="499.5" y2="908.0" stroke="#231f20" stroke-width="2.4"/>
<line x1="101" y1="848.8" x2="115" y2="848.8" stroke="#231f20" stroke-width="2.4"/>
<line x1="507.5" y1="848.8" x2="493.5" y2="848.8" stroke="#231f20" stroke-width="2.4"/>
<line x1="101" y1="789.6" x2="109" y2="789.6" stroke="#231f20" stroke-width="2.4"/>
<line x1="507.5" y1="789.6" x2="499.5" y2="789.6" stroke="#231f20" stroke-width="2.4"/>
<line x1="101" y1="730.4" x2="115" y2="730.4" stroke="#231f20" stroke-width="2.4"/>
<line x1="507.5" y1="730.4" x2="493.5" y2="730.4" stroke="#231f20" stroke-width="2.4"/>
<g clip-path="url(#cD)">
<path d="M545.0,1034.0 C547.5,1034.3 554.8,1034.5 560.0,1036.0 C565.2,1037.5 569.9,1040.8 576.0,1043.0 C582.1,1045.2 591.7,1047.7 596.7,1049.0 C601.7,1050.3 600.5,1050.4 606.0,1051.0 C611.5,1051.6 621.3,1051.9 630.0,1052.5 C638.7,1053.1 652.0,1053.4 658.0,1054.5 C664.0,1055.6 661.5,1056.3 666.3,1059.2 C671.1,1062.1 682.0,1068.5 687.0,1072.0 C692.0,1075.5 691.8,1075.0 696.5,1080.0 C701.2,1085.0 710.4,1096.0 715.0,1102.0 C719.6,1108.0 720.9,1111.8 724.4,1116.0 C727.9,1120.2 732.2,1123.4 736.3,1127.2 C740.4,1131.0 743.2,1134.0 749.0,1139.0 C754.8,1144.0 765.8,1153.0 771.0,1157.4 C776.2,1161.8 776.1,1161.5 780.4,1165.6 C784.7,1169.7 792.3,1177.7 796.7,1181.8 C801.1,1185.9 801.6,1185.5 807.0,1190.0 C812.4,1194.5 823.8,1204.2 829.0,1208.5 C834.2,1212.8 833.0,1212.0 838.5,1215.5 C844.0,1219.0 856.3,1226.3 861.7,1229.4 C867.1,1232.5 865.6,1232.1 871.0,1234.0 C876.4,1235.9 888.2,1239.6 894.0,1241.0 C899.8,1242.4 901.0,1241.5 906.0,1242.2 C911.0,1242.9 919.7,1244.5 924.0,1245.0 C928.3,1245.5 930.7,1245.0 932.0,1245.0" fill="none" stroke="#2a2a2a" stroke-width="1.4" stroke-dasharray="27 10"/>
<path d="M545.0,1104.0 C546.5,1104.9 548.5,1107.2 553.7,1109.2 C558.9,1111.2 570.8,1114.5 576.0,1116.0 C581.2,1117.5 580.8,1117.7 585.0,1118.0 C589.2,1118.3 596.0,1117.9 601.3,1118.0 C606.6,1118.1 611.2,1118.0 617.0,1118.5 C622.8,1119.0 630.5,1122.3 636.0,1120.8 C641.5,1119.2 645.3,1111.3 650.0,1109.2 C654.7,1107.1 660.1,1107.2 664.0,1108.0 C667.9,1108.8 668.6,1110.9 673.3,1113.8 C678.0,1116.7 687.0,1121.5 692.0,1125.4 C697.0,1129.3 699.3,1132.7 703.5,1137.0 C707.7,1141.3 713.1,1146.7 717.4,1151.0 C721.6,1155.3 725.1,1159.0 729.0,1162.6 C732.9,1166.2 737.1,1168.7 741.0,1172.5 C744.9,1176.3 746.8,1180.3 752.6,1185.3 C758.4,1190.3 768.4,1196.9 775.8,1202.7 C783.1,1208.5 791.5,1215.7 796.7,1220.0 C801.9,1224.3 803.9,1225.8 807.0,1228.3 C810.1,1230.8 809.7,1230.8 815.3,1235.2 C820.9,1239.7 835.0,1250.5 840.8,1255.0 C846.6,1259.5 845.0,1258.3 850.0,1262.0 C855.0,1265.7 865.2,1273.3 871.0,1277.0 C876.8,1280.7 878.8,1280.7 885.0,1284.0 C891.2,1287.3 900.7,1292.9 908.0,1296.8 C915.3,1300.7 925.5,1305.5 929.0,1307.2" fill="none" stroke="#c8282d" stroke-width="1.4" stroke-dasharray="27 10"/>
<path d="M545.0,1256.0 C546.1,1255.7 547.2,1256.7 551.4,1254.3 C555.6,1251.9 564.8,1244.5 570.0,1241.6 C575.2,1238.7 579.0,1238.0 582.7,1237.0 C586.4,1236.0 588.9,1236.0 592.0,1235.7 C595.1,1235.4 598.2,1235.7 601.3,1235.3 C604.4,1234.9 606.7,1233.6 610.6,1233.4 C614.5,1233.2 619.9,1232.5 624.5,1233.9 C629.1,1235.3 634.8,1239.5 638.5,1241.6 C642.2,1243.6 642.5,1245.6 646.6,1246.2 C650.7,1246.8 657.3,1246.4 662.9,1245.0 C668.5,1243.6 675.5,1240.5 680.3,1238.0 C685.1,1235.5 686.1,1233.1 691.9,1230.0 C697.7,1226.9 709.6,1222.4 715.0,1219.5 C720.4,1216.6 720.9,1214.9 724.4,1212.5 C727.9,1210.1 732.0,1206.8 736.3,1205.0 C740.6,1203.2 745.8,1203.3 750.0,1201.6 C754.2,1199.9 755.4,1198.3 761.8,1194.6 C768.2,1190.9 782.4,1182.8 788.6,1179.5 C794.8,1176.2 792.6,1178.1 799.0,1174.8 C805.4,1171.5 818.4,1164.3 826.9,1159.7 C835.4,1155.1 843.0,1150.7 850.0,1147.0 C857.0,1143.3 861.3,1141.2 868.7,1137.7 C876.1,1134.2 885.7,1129.7 894.2,1126.0 C902.7,1122.3 913.5,1118.3 919.8,1115.6 C926.1,1112.9 930.0,1110.9 932.0,1110.0" fill="none" stroke="#9acb3c" stroke-width="1.4" stroke-dasharray="27 10"/>
<path d="M545.0,1308.0 C551.7,1307.6 575.6,1306.2 585.0,1305.4 C594.4,1304.6 595.1,1305.0 601.3,1303.1 C607.5,1301.2 617.6,1296.5 622.2,1293.8 C626.9,1291.1 626.9,1288.1 629.2,1286.9 C631.5,1285.8 633.2,1286.1 636.1,1286.9 C639.0,1287.7 641.2,1290.5 646.6,1291.5 C652.0,1292.5 662.7,1293.9 668.7,1292.7 C674.7,1291.5 678.7,1288.2 682.6,1284.5 C686.5,1280.8 688.0,1276.4 691.9,1270.6 C695.8,1264.8 701.9,1255.9 705.8,1249.7 C709.6,1243.5 711.5,1239.3 715.0,1233.4 C718.5,1227.5 723.1,1219.6 727.0,1214.3 C730.9,1209.0 734.3,1206.8 738.6,1201.6 C742.9,1196.4 748.7,1188.2 752.6,1183.0 C756.5,1177.8 757.7,1175.4 761.8,1170.2 C765.9,1165.0 771.2,1158.8 777.0,1151.6 C782.8,1144.4 790.7,1134.3 796.7,1127.2 C802.7,1120.1 806.8,1115.5 813.0,1108.7 C819.2,1101.9 828.2,1093.5 834.0,1086.6 C839.8,1079.6 842.2,1073.8 848.0,1067.0 C853.8,1060.2 861.8,1052.6 868.7,1046.0 C875.6,1039.4 880.7,1035.0 889.6,1027.4 C898.5,1019.9 914.9,1006.4 922.0,1000.7 C929.1,995.0 930.3,994.3 932.0,993.0" fill="none" stroke="#3a48b0" stroke-width="1.4" stroke-dasharray="27 10"/>
<rect x="538.0" y="1027.9" width="13.5" height="12.8" fill="#000"/>
<rect x="553.0" y="1029.4" width="13.5" height="12.8" fill="#000"/>
<rect x="569.1" y="1036.8" width="13.5" height="12.8" fill="#000"/>
<rect x="610.2" y="1045.3" width="13.5" height="12.8" fill="#000"/>
<rect x="625.2" y="1053.1" width="13.5" height="12.8" fill="#000"/>
<rect x="644.5" y="1046.4" width="13.5" height="12.8" fill="#000"/>
<rect x="677.0" y="1057.0" width="13.5" height="12.8" fill="#000"/>
<rect x="723.9" y="1116.7" width="13.5" height="12.8" fill="#000"/>
<rect x="781.9" y="1164.4" width="13.5" height="12.8" fill="#000"/>
<rect x="853.9" y="1234.0" width="13.5" height="12.8" fill="#000"/>
<rect x="925.8" y="1237.6" width="13.5" height="12.8" fill="#000"/>
<path d="M535.5,1111.4 L555.0,1111.4 L545.2,1095.4 Z" fill="#000"/>
<path d="M550.6,1116.6 L570.1,1116.6 L560.4,1100.6 Z" fill="#000"/>
<path d="M566.2,1123.8 L585.8,1123.8 L576.0,1107.8 Z" fill="#000"/>
<path d="M607.6,1122.2 L627.1,1122.2 L617.4,1106.2 Z" fill="#000"/>
<path d="M623.2,1133.0 L642.8,1133.0 L633.0,1117.0 Z" fill="#000"/>
<path d="M642.1,1108.5 L661.6,1108.5 L651.9,1092.5 Z" fill="#000"/>
<path d="M673.6,1119.8 L693.1,1119.8 L683.4,1103.8 Z" fill="#000"/>
<path d="M720.5,1172.3 L740.0,1172.3 L730.3,1156.3 Z" fill="#000"/>
<path d="M779.2,1220.5 L798.8,1220.5 L789.0,1204.5 Z" fill="#000"/>
<path d="M850.9,1279.8 L870.4,1279.8 L860.6,1263.8 Z" fill="#000"/>
<path d="M923.2,1315.8 L942.8,1315.8 L933.0,1299.8 Z" fill="#000"/>
<circle cx="545.0" cy="1255.5" r="7.0" fill="#fff" stroke="#111" stroke-width="1.6"/>
<circle cx="560.6" cy="1252.0" r="7.0" fill="#fff" stroke="#111" stroke-width="1.6"/>
<circle cx="575.8" cy="1237.0" r="7.0" fill="#fff" stroke="#111" stroke-width="1.6"/>
<circle cx="617.0" cy="1231.0" r="7.0" fill="#fff" stroke="#111" stroke-width="1.6"/>
<circle cx="632.6" cy="1235.7" r="7.0" fill="#fff" stroke="#111" stroke-width="1.6"/>
<circle cx="651.9" cy="1250.8" r="7.0" fill="#fff" stroke="#111" stroke-width="1.6"/>
<circle cx="683.7" cy="1236.3" r="7.0" fill="#fff" stroke="#111" stroke-width="1.6"/>
<circle cx="730.9" cy="1209.6" r="7.0" fill="#fff" stroke="#111" stroke-width="1.6"/>
<circle cx="788.6" cy="1180.7" r="7.0" fill="#fff" stroke="#111" stroke-width="1.6"/>
<circle cx="860.6" cy="1139.5" r="7.0" fill="#fff" stroke="#111" stroke-width="1.6"/>
<circle cx="932.5" cy="1109.9" r="7.0" fill="#fff" stroke="#111" stroke-width="1.6"/>
<path d="M545.5,1299.8 L554.0,1304.0 L554.0,1312.5 L545.5,1316.8 L537.0,1312.5 L537.0,1304.0 Z" fill="#000"/>
<path d="M561.3,1297.0 L569.8,1301.2 L569.8,1309.8 L561.3,1314.0 L552.8,1309.8 L552.8,1301.2 Z" fill="#000"/>
<path d="M576.9,1295.7 L585.4,1300.0 L585.4,1308.5 L576.9,1312.7 L568.4,1308.5 L568.4,1300.0 Z" fill="#000"/>
<path d="M617.5,1294.5 L626.0,1298.8 L626.0,1307.2 L617.5,1311.5 L609.0,1307.2 L609.0,1298.8 Z" fill="#000"/>
<path d="M632.6,1271.5 L641.1,1275.8 L641.1,1284.2 L632.6,1288.5 L624.1,1284.2 L624.1,1275.8 Z" fill="#000"/>
<path d="M651.3,1289.5 L659.8,1293.8 L659.8,1302.2 L651.3,1306.5 L642.8,1302.2 L642.8,1293.8 Z" fill="#000"/>
<path d="M683.8,1282.5 L692.3,1286.8 L692.3,1295.2 L683.8,1299.5 L675.3,1295.2 L675.3,1286.8 Z" fill="#000"/>
<path d="M730.2,1195.9 L738.7,1200.2 L738.7,1208.7 L730.2,1212.9 L721.7,1208.7 L721.7,1200.2 Z" fill="#000"/>
<path d="M789.4,1129.8 L797.9,1134.0 L797.9,1142.5 L789.4,1146.8 L780.9,1142.5 L780.9,1134.0 Z" fill="#000"/>
<path d="M860.8,1041.0 L869.3,1045.2 L869.3,1053.8 L860.8,1058.0 L852.3,1053.8 L852.3,1045.2 Z" fill="#000"/>
<path d="M932.0,984.0 L940.5,988.2 L940.5,996.8 L932.0,1001.0 L923.5,996.8 L923.5,988.2 Z" fill="#000"/>
</g>
<rect x="527" y="730" width="414.5" height="608.8" fill="none" stroke="#231f20" stroke-width="2.8"/>
<line x1="568.1" y1="730" x2="568.1" y2="737" stroke="#231f20" stroke-width="2.4"/>
<line x1="568.1" y1="1338.8" x2="568.1" y2="1331.8" stroke="#231f20" stroke-width="2.4"/>
<line x1="597.9" y1="730" x2="597.9" y2="737" stroke="#231f20" stroke-width="2.4"/>
<line x1="597.9" y1="1338.8" x2="597.9" y2="1331.8" stroke="#231f20" stroke-width="2.4"/>
<line x1="621.1" y1="730" x2="621.1" y2="737" stroke="#231f20" stroke-width="2.4"/>
<line x1="621.1" y1="1338.8" x2="621.1" y2="1331.8" stroke="#231f20" stroke-width="2.4"/>
<line x1="640.0" y1="730" x2="640.0" y2="737" stroke="#231f20" stroke-width="2.4"/>
<line x1="640.0" y1="1338.8" x2="640.0" y2="1331.8" stroke="#231f20" stroke-width="2.4"/>
<line x1="656.0" y1="730" x2="656.0" y2="737" stroke="#231f20" stroke-width="2.4"/>
<line x1="656.0" y1="1338.8" x2="656.0" y2="1331.8" stroke="#231f20" stroke-width="2.4"/>
<line x1="669.8" y1="730" x2="669.8" y2="737" stroke="#231f20" stroke-width="2.4"/>
<line x1="669.8" y1="1338.8" x2="669.8" y2="1331.8" stroke="#231f20" stroke-width="2.4"/>
<line x1="682.1" y1="730" x2="682.1" y2="737" stroke="#231f20" stroke-width="2.4"/>
<line x1="682.1" y1="1338.8" x2="682.1" y2="1331.8" stroke="#231f20" stroke-width="2.4"/>
<line x1="693.0" y1="730" x2="693.0" y2="742" stroke="#231f20" stroke-width="2.4"/>
<line x1="693.0" y1="1338.8" x2="693.0" y2="1326.8" stroke="#231f20" stroke-width="2.4"/>
<line x1="764.9" y1="730" x2="764.9" y2="737" stroke="#231f20" stroke-width="2.4"/>
<line x1="764.9" y1="1338.8" x2="764.9" y2="1331.8" stroke="#231f20" stroke-width="2.4"/>
<line x1="807.0" y1="730" x2="807.0" y2="737" stroke="#231f20" stroke-width="2.4"/>
<line x1="807.0" y1="1338.8" x2="807.0" y2="1331.8" stroke="#231f20" stroke-width="2.4"/>
<line x1="836.8" y1="730" x2="836.8" y2="737" stroke="#231f20" stroke-width="2.4"/>
<line x1="836.8" y1="1338.8" x2="836.8" y2="1331.8" stroke="#231f20" stroke-width="2.4"/>
<line x1="860.0" y1="730" x2="860.0" y2="737" stroke="#231f20" stroke-width="2.4"/>
<line x1="860.0" y1="1338.8" x2="860.0" y2="1331.8" stroke="#231f20" stroke-width="2.4"/>
<line x1="878.9" y1="730" x2="878.9" y2="737" stroke="#231f20" stroke-width="2.4"/>
<line x1="878.9" y1="1338.8" x2="878.9" y2="1331.8" stroke="#231f20" stroke-width="2.4"/>
<line x1="894.9" y1="730" x2="894.9" y2="737" stroke="#231f20" stroke-width="2.4"/>
<line x1="894.9" y1="1338.8" x2="894.9" y2="1331.8" stroke="#231f20" stroke-width="2.4"/>
<line x1="908.7" y1="730" x2="908.7" y2="737" stroke="#231f20" stroke-width="2.4"/>
<line x1="908.7" y1="1338.8" x2="908.7" y2="1331.8" stroke="#231f20" stroke-width="2.4"/>
<line x1="921.0" y1="730" x2="921.0" y2="737" stroke="#231f20" stroke-width="2.4"/>
<line x1="921.0" y1="1338.8" x2="921.0" y2="1331.8" stroke="#231f20" stroke-width="2.4"/>
<line x1="931.9" y1="730" x2="931.9" y2="742" stroke="#231f20" stroke-width="2.4"/>
<line x1="931.9" y1="1338.8" x2="931.9" y2="1326.8" stroke="#231f20" stroke-width="2.4"/>
<line x1="527" y1="1324.0" x2="541" y2="1324.0" stroke="#231f20" stroke-width="2.4"/>
<line x1="941.5" y1="1324.0" x2="927.5" y2="1324.0" stroke="#231f20" stroke-width="2.4"/>
<line x1="527" y1="1264.6" x2="535" y2="1264.6" stroke="#231f20" stroke-width="2.4"/>
<line x1="941.5" y1="1264.6" x2="933.5" y2="1264.6" stroke="#231f20" stroke-width="2.4"/>
<line x1="527" y1="1205.2" x2="541" y2="1205.2" stroke="#231f20" stroke-width="2.4"/>
<line x1="941.5" y1="1205.2" x2="927.5" y2="1205.2" stroke="#231f20" stroke-width="2.4"/>
<line x1="527" y1="1145.8" x2="535" y2="1145.8" stroke="#231f20" stroke-width="2.4"/>
<line x1="941.5" y1="1145.8" x2="933.5" y2="1145.8" stroke="#231f20" stroke-width="2.4"/>
<line x1="527" y1="1086.4" x2="541" y2="1086.4" stroke="#231f20" stroke-width="2.4"/>
<line x1="941.5" y1="1086.4" x2="927.5" y2="1086.4" stroke="#231f20" stroke-width="2.4"/>
<line x1="527" y1="1027.0" x2="535" y2="1027.0" stroke="#231f20" stroke-width="2.4"/>
<line x1="941.5" y1="1027.0" x2="933.5" y2="1027.0" stroke="#231f20" stroke-width="2.4"/>
<line x1="527" y1="967.6" x2="541" y2="967.6" stroke="#231f20" stroke-width="2.4"/>
<line x1="941.5" y1="967.6" x2="927.5" y2="967.6" stroke="#231f20" stroke-width="2.4"/>
<line x1="527" y1="908.2" x2="535" y2="908.2" stroke="#231f20" stroke-width="2.4"/>
<line x1="941.5" y1="908.2" x2="933.5" y2="908.2" stroke="#231f20" stroke-width="2.4"/>
<line x1="527" y1="848.8" x2="541" y2="848.8" stroke="#231f20" stroke-width="2.4"/>
<line x1="941.5" y1="848.8" x2="927.5" y2="848.8" stroke="#231f20" stroke-width="2.4"/>
<line x1="527" y1="789.4" x2="535" y2="789.4" stroke="#231f20" stroke-width="2.4"/>
<line x1="941.5" y1="789.4" x2="933.5" y2="789.4" stroke="#231f20" stroke-width="2.4"/>
<line x1="527" y1="730.0" x2="541" y2="730.0" stroke="#231f20" stroke-width="2.4"/>
<line x1="941.5" y1="730.0" x2="927.5" y2="730.0" stroke="#231f20" stroke-width="2.4"/>
<text transform="translate(33.59,737.91) scale(1.1541,1)" font-family='"Liberation Serif", "Times New Roman", serif' font-size="29.64" fill="#222" >100</text>
<text transform="translate(51.01,856.33) scale(1.2033,1)" font-family='"Liberation Serif", "Times New Roman", serif' font-size="28.16" fill="#222" >80</text>
<text transform="translate(50.84,974.12) scale(1.1971,1)" font-family='"Liberation Serif", "Times New Roman", serif' font-size="28.45" fill="#222" >60</text>
<text transform="translate(52.16,1092.63) scale(1.1857,1)" font-family='"Liberation Serif", "Times New Roman", serif' font-size="27.56" fill="#222" >40</text>
<text transform="translate(51.01,1211.91) scale(1.1411,1)" font-family='"Liberation Serif", "Times New Roman", serif' font-size="29.79" fill="#222" >20</text>
<text transform="translate(68.88,1329.13) scale(1.1518,1)" font-family='"Liberation Serif", "Times New Roman", serif' font-size="27.86" fill="#222" >0</text>
<text transform="translate(242.09,1373.26) scale(1.1800,1)" font-family='"Liberation Sans", Arial, sans-serif' font-size="24.15" fill="#222" letter-spacing="0.630" >0.1</text>
<text transform="translate(489.33,1373.20) scale(1.0000,1)" font-family='"Liberation Sans", Arial, sans-serif' font-size="24.42" fill="#222" >1</text>
<text transform="translate(670.57,1373.56) scale(1.1800,1)" font-family='"Liberation Sans", Arial, sans-serif' font-size="24.58" fill="#222" letter-spacing="0.142" >0.1</text>
<text transform="translate(923.87,1373.80) scale(1.0000,1)" font-family='"Liberation Sans", Arial, sans-serif' font-size="25.29" fill="#222" >1</text>
<text transform="translate(304.65,1397.50) scale(1.1800,1)" font-family='"Liberation Sans", Arial, sans-serif' font-size="25.20" fill="#222" letter-spacing="1.314" >duty cycle</text>
<text transform="translate(735.27,1398.90) scale(1.1800,1)" font-family='"Liberation Sans", Arial, sans-serif' font-size="24.80" fill="#222" letter-spacing="1.254" >duty cycle</text>
<text transform="translate(37.70,1080.45) rotate(-90) scale(1.1800,1)" font-family='"Liberation Sans", Arial, sans-serif' font-size="29.00" fill="#222" letter-spacing="-1.036" >atom</text>
<text transform="translate(37.29,998.63) rotate(-90) scale(1.0535,1)" font-family='"Liberation Serif", "Times New Roman", serif' font-size="31.41" fill="#222" >%</text>
<text transform="translate(131.39,816.90) scale(1.0000,1)" font-family='"Liberation Sans", Arial, sans-serif' font-size="45.00" fill="#222" letter-spacing="2.090" >a)</text>
<text transform="translate(564.56,822.30) scale(1.0600,1)" font-family='"Liberation Sans", Arial, sans-serif' font-size="46.00" fill="#222" letter-spacing="1.520" >b)</text>
<text transform="translate(211.97,785.00) scale(1.1800,1)" font-family='"Liberation Sans", Arial, sans-serif' font-size="26.80" fill="#222" letter-spacing="1.280" >on time variation</text>
<text transform="translate(676.69,781.40) scale(1.1800,1)" font-family='"Liberation Sans", Arial, sans-serif' font-size="26.40" fill="#222" letter-spacing="1.525" >off time variation</text>
<line x1="263.1" y1="865.3" x2="271.1" y2="865.3" stroke="#2a2a2a" stroke-width="1.6"/>
<line x1="279.6" y1="865.3" x2="287.3" y2="865.3" stroke="#2a2a2a" stroke-width="1.6"/>
<line x1="315.3" y1="865.3" x2="323.2" y2="865.3" stroke="#2a2a2a" stroke-width="1.6"/>
<line x1="330.9" y1="865.3" x2="338.5" y2="865.3" stroke="#2a2a2a" stroke-width="1.6"/>
<rect x="294.9" y="859.3" width="13.0" height="12.0" fill="#000"/>
<line x1="263.1" y1="903.9" x2="271.1" y2="903.9" stroke="#c8282d" stroke-width="1.6"/>
<line x1="279.6" y1="903.9" x2="287.3" y2="903.9" stroke="#c8282d" stroke-width="1.6"/>
<line x1="315.3" y1="903.9" x2="323.2" y2="903.9" stroke="#c8282d" stroke-width="1.6"/>
<line x1="330.9" y1="903.9" x2="338.5" y2="903.9" stroke="#c8282d" stroke-width="1.6"/>
<path d="M291.6,910.4 L311.3,910.4 L301.4,894.4 Z" fill="#000"/>
<line x1="263.1" y1="945.0" x2="271.1" y2="945.0" stroke="#9acb3c" stroke-width="1.6"/>
<line x1="279.6" y1="945.0" x2="287.3" y2="945.0" stroke="#9acb3c" stroke-width="1.6"/>
<line x1="315.3" y1="945.0" x2="323.2" y2="945.0" stroke="#9acb3c" stroke-width="1.6"/>
<line x1="330.9" y1="945.0" x2="338.5" y2="945.0" stroke="#9acb3c" stroke-width="1.6"/>
<circle cx="301.4" cy="945.0" r="6.5" fill="#fff" stroke="#111" stroke-width="1.5"/>
<line x1="263.1" y1="984.4" x2="271.1" y2="984.4" stroke="#3a48b0" stroke-width="1.6"/>
<line x1="279.6" y1="984.4" x2="287.3" y2="984.4" stroke="#3a48b0" stroke-width="1.6"/>
<line x1="315.3" y1="984.4" x2="323.2" y2="984.4" stroke="#3a48b0" stroke-width="1.6"/>
<line x1="330.9" y1="984.4" x2="338.5" y2="984.4" stroke="#3a48b0" stroke-width="1.6"/>
<path d="M301.4,975.9 L310.1,980.1 L310.1,988.6 L301.4,992.9 L292.7,988.6 L292.7,980.1 Z" fill="#000"/>
<text transform="translate(349.01,874.20) scale(1.0800,1)" font-family='"Liberation Sans", Arial, sans-serif' font-size="24.20" fill="#222" letter-spacing="1.901" >Si 2p</text>
<text transform="translate(348.96,914.30) scale(1.0800,1)" font-family='"Liberation Sans", Arial, sans-serif' font-size="24.20" fill="#222" letter-spacing="2.465" >O 1s</text>
<text transform="translate(349.47,953.70) scale(1.0800,1)" font-family='"Liberation Sans", Arial, sans-serif' font-size="24.20" fill="#222" letter-spacing="1.460" >C 1s</text>
<text transform="translate(348.66,992.50) scale(1.0800,1)" font-family='"Liberation Sans", Arial, sans-serif' font-size="24.20" fill="#222" letter-spacing="1.222" >F 1s</text>
<line x1="714.9" y1="877.4" x2="722.9" y2="877.4" stroke="#2a2a2a" stroke-width="1.6"/>
<line x1="731.4" y1="877.4" x2="739.1" y2="877.4" stroke="#2a2a2a" stroke-width="1.6"/>
<line x1="767.1" y1="877.4" x2="775.0" y2="877.4" stroke="#2a2a2a" stroke-width="1.6"/>
<line x1="782.7" y1="877.4" x2="790.3" y2="877.4" stroke="#2a2a2a" stroke-width="1.6"/>
<rect x="746.7" y="871.4" width="13.0" height="12.0" fill="#000"/>
<line x1="714.9" y1="917.1" x2="722.9" y2="917.1" stroke="#c8282d" stroke-width="1.6"/>
<line x1="731.4" y1="917.1" x2="739.1" y2="917.1" stroke="#c8282d" stroke-width="1.6"/>
<line x1="767.1" y1="917.1" x2="775.0" y2="917.1" stroke="#c8282d" stroke-width="1.6"/>
<line x1="782.7" y1="917.1" x2="790.3" y2="917.1" stroke="#c8282d" stroke-width="1.6"/>
<path d="M743.3,923.6 L763.0,923.6 L753.2,907.6 Z" fill="#000"/>
<line x1="714.9" y1="955.5" x2="722.9" y2="955.5" stroke="#9acb3c" stroke-width="1.6"/>
<line x1="731.4" y1="955.5" x2="739.1" y2="955.5" stroke="#9acb3c" stroke-width="1.6"/>
<line x1="767.1" y1="955.5" x2="775.0" y2="955.5" stroke="#9acb3c" stroke-width="1.6"/>
<line x1="782.7" y1="955.5" x2="790.3" y2="955.5" stroke="#9acb3c" stroke-width="1.6"/>
<circle cx="753.2" cy="955.5" r="6.5" fill="#fff" stroke="#111" stroke-width="1.5"/>
<line x1="714.9" y1="994.4" x2="722.9" y2="994.4" stroke="#3a48b0" stroke-width="1.6"/>
<line x1="731.4" y1="994.4" x2="739.1" y2="994.4" stroke="#3a48b0" stroke-width="1.6"/>
<line x1="767.1" y1="994.4" x2="775.0" y2="994.4" stroke="#3a48b0" stroke-width="1.6"/>
<line x1="782.7" y1="994.4" x2="790.3" y2="994.4" stroke="#3a48b0" stroke-width="1.6"/>
<path d="M753.2,985.9 L761.9,990.1 L761.9,998.6 L753.2,1002.9 L744.5,998.6 L744.5,990.1 Z" fill="#000"/>
<text transform="translate(799.01,886.90) scale(1.0800,1)" font-family='"Liberation Sans", Arial, sans-serif' font-size="24.20" fill="#222" letter-spacing="2.109" >Si 2p</text>
<text transform="translate(798.96,926.10) scale(1.0800,1)" font-family='"Liberation Sans", Arial, sans-serif' font-size="24.20" fill="#222" letter-spacing="2.188" >O 1s</text>
<text transform="translate(798.87,965.60) scale(1.0800,1)" font-family='"Liberation Sans", Arial, sans-serif' font-size="24.20" fill="#222" letter-spacing="0.998" >C 1s</text>
<text transform="translate(798.86,1004.50) scale(1.0800,1)" font-family='"Liberation Sans", Arial, sans-serif' font-size="24.20" fill="#222" letter-spacing="1.345" >F 1s</text>
</svg></body></html>
